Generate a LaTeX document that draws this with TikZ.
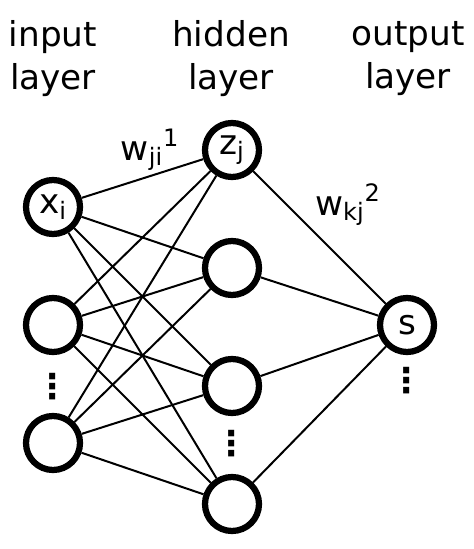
\documentclass[tikz,border=0pt]{standalone}
\usepackage{fontspec}
\setmainfont{DejaVu Sans}
\usetikzlibrary{positioning}
\tikzset{
    neuron/.style = {draw, circle, line width=0.125cm,
        minimum size=1.08cm, inner sep=0pt},
    layer/.style = {align=center, inner sep=0pt},
    dots/.style = {inner sep=0pt},
    link/.style = {draw, line width=0.04cm},
    weight/.style = {inner sep=0pt}
}

\begin{document}
\begin{tikzpicture}[auto, node distance=2.36cm, font=\fontsize{19.5}{24}\selectfont]
    \useasboundingbox (0,0) rectangle (9.48,-10.98);
    % titles
    \node [layer] (tin) at (1.06,-1.17) {input\\layer};
    \node [layer] (thid) at (4.62,-1.17) {hidden\\layer};
    \node [layer] (tout) at (8.16,-1.17) {output\\layer};
    % neurons
    \node [neuron] (z1) at (4.64,-3.00) {z\textsubscript{j}};
    \node [neuron, below of=z1] (z2) {};
    \node [neuron, below of=z2] (z3) {};
    \node [neuron, below of=z3] (z4) {};
    \node [neuron] (x1) at (1.06,-4.14) {x\textsubscript{i}};
    \node [neuron, below of=x1] (x2) {};
    \node [neuron, below of=x2] (x3) {};
    \node [neuron] (s) at (8.14,-6.50) {s};
    \node [dots, below of=x2, node distance=1.24cm] (xdots) {\textbf{⋮}};
    \node [dots, below of=z3, node distance=1.16cm] (zdots) {\textbf{⋮}};
    \node [dots, below of=s, node distance=1.12cm] (sdots) {\textbf{⋮}};
    % connections
    \foreach \i in {1,2,3}
        \foreach \j in {1,...,4}
            \draw [link] (x\i) -- (z\j);
    \foreach \j in {1,...,4}
        \draw [link] (z\j) -- (s);
    \node [weight] (w1) at (3.0,-3.0) {w\textsubscript{ji}\textsuperscript{1}};
    \node [weight] (w2) at (6.96,-4.1) {w\textsubscript{kj}\textsuperscript{2}};
\end{tikzpicture}
\end{document}
